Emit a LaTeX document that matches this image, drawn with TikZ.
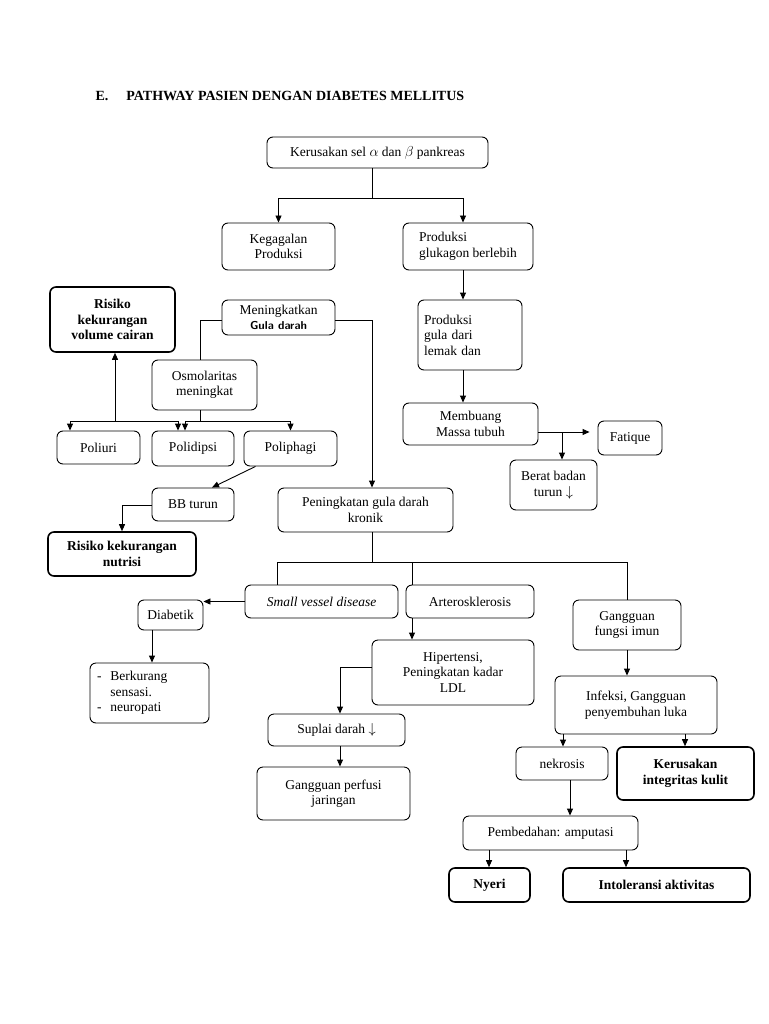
\documentclass[tikz,border=0pt]{standalone}
\usepackage{fontspec}
\setmainfont{Liberation Serif}
\usetikzlibrary{arrows.meta}
\begin{document}
\begin{tikzpicture}[x=1pt,y=-1pt,
 box/.style={draw,rounded corners=6pt,line width=0.9pt,align=center,inner sep=2pt,font=\fontsize{13.5}{15.5}\selectfont},
 bbox/.style={box,line width=1.6pt,font=\fontsize{13.5}{15.5}\selectfont\bfseries},
 arr/.style={-{Triangle[length=7pt,width=6pt]},line width=0.9pt},
 ln/.style={line width=0.9pt}]
\useasboundingbox (0,0) rectangle (768,1024);
\fill[white] (0,0) rectangle (768,1024);
\node[anchor=west,font=\fontsize{14}{16}\selectfont\bfseries] (title) at (92,96) {E.\hspace{18pt}PATHWAY PASIEN DENGAN DIABETES MELLITUS};
\node[box,minimum width=221pt,minimum height=31pt] (top) at (377.5,152.5) {Kerusakan sel $\alpha$ dan $\beta$ pankreas};
\node[box,minimum width=113pt,minimum height=47pt] (keg) at (278.5,246.5) {Kegagalan\\Produksi};
\node[box,minimum width=130pt,minimum height=47pt,align=left] (glu) at (468,246.5) {Produksi\\glukagon berlebih};
\node[box,minimum width=113pt,minimum height=35pt] (men) at (278.5,317.5) {Meningkatkan\\{\sffamily\bfseries\fontsize{11.5}{13}\selectfont Gula darah}};
\node[box,minimum width=104pt,minimum height=70pt,align=left,text width=92pt] (lem) at (470,335) {Produksi\\gula dari\\lemak dan\\[6pt]};
\node[box,minimum width=135pt,minimum height=42pt] (mem) at (470.5,424) {Membuang\\Massa tubuh};
\node[box,minimum width=64pt,minimum height=34pt] (fat) at (630,438) {Fatique};
\node[box,minimum width=87pt,minimum height=50pt] (ber) at (553.5,485) {Berat badan\\turun $\downarrow$};
\node[bbox,minimum width=125pt,minimum height=65pt] (ris) at (112.5,319.5) {Risiko\\kekurangan\\volume cairan};
\node[box,minimum width=105pt,minimum height=50pt] (osm) at (204.5,385) {Osmolaritas\\meningkat};
\node[box,minimum width=83pt,minimum height=33pt] (pur) at (98.5,447.5) {Poliuri};
\node[box,minimum width=82pt,minimum height=35pt] (pdi) at (193,448.5) {Polidipsi};
\node[box,minimum width=93pt,minimum height=35pt] (pph) at (290.5,448.5) {Poliphagi};
\node[box,minimum width=82pt,minimum height=33pt] (bb) at (193,504.5) {BB turun};
\node[bbox,minimum width=148pt,minimum height=44pt] (rkn) at (122,554) {Risiko kekurangan\\nutrisi};
\node[box,minimum width=175pt,minimum height=44pt] (pgk) at (365.5,510) {Peningkatan gula darah\\kronik};
\node[box,minimum width=153pt,minimum height=33pt,font=\fontsize{13.5}{15.5}\selectfont\itshape] (svd) at (321.5,601.5) {Small vessel disease};
\node[box,minimum width=128pt,minimum height=33pt] (art) at (470,601.5) {Arterosklerosis};
\node[box,minimum width=65pt,minimum height=30pt] (dia) at (170.5,615) {Diabetik};
\node[box,minimum width=119pt,minimum height=60pt,align=left,text width=105pt] (brk) at (149.5,693) {-\ \ Berkurang\\\phantom{-\ \ }sensasi.\\-\ \ neuropati};
\node[box,minimum width=162pt,minimum height=65pt] (hip) at (453,672.5) {Hipertensi,\\Peningkatan kadar\\LDL};
\node[box,minimum width=137pt,minimum height=32pt] (sup) at (336.5,730) {Suplai darah $\downarrow$};
\node[box,minimum width=153pt,minimum height=53pt] (gpj) at (333.5,793.5) {Gangguan perfusi\\jaringan};
\node[box,minimum width=108pt,minimum height=50pt] (gfi) at (627,625) {Gangguan\\fungsi imun};
\node[box,minimum width=162pt,minimum height=58pt] (inf) at (636,705) {Infeksi, Gangguan\\penyembuhan luka};
\node[box,minimum width=92pt,minimum height=33pt] (nek) at (562,763.5) {nekrosis};
\node[bbox,minimum width=137pt,minimum height=53pt] (ker) at (685.5,773.5) {Kerusakan\\integritas kulit};
\node[box,minimum width=175pt,minimum height=34pt] (pem) at (550.5,833) {Pembedahan: amputasi};
\node[bbox,minimum width=81pt,minimum height=34pt] (nye) at (489.5,885) {Nyeri};
\node[bbox,minimum width=187pt,minimum height=34pt] (int) at (656.5,885) {Intoleransi aktivitas};
% coordinates
\coordinate (j1) at (372,198);
\coordinate (j2) at (200,320);
\coordinate (j3) at (372,320);
\coordinate (j4) at (200,421);
\coordinate (j5) at (115,421);
\coordinate (j6) at (562,432);
\coordinate (j7) at (122,505);
\coordinate (j8) at (372,562);
\coordinate (j9) at (340,667);
\coordinate (jr) at (463,198);
% connectors
\draw[ln] (top.south-|j1) -- (j1);
\draw[arr] (j1) -| (keg.north);
\draw[arr] (j1) -- (jr) -- (jr|-glu.north);
\draw[arr] (glu.south-|jr) -- (jr|-lem.north);
\draw[arr] (lem.south-|jr) -- (jr|-mem.north);
\draw[arr] (mem.east|-j6) -- ([xshift=-8pt]fat.west|-j6);
\draw[arr] (j6) -- (j6|-ber.north);
\draw[ln] (men.west|-j2) -- (j2) -- (j2|-osm.north);
\draw[ln] (osm.south-|j4) -- (j4);
\draw[arr] (j4) -| ([xshift=-8pt]pdi.north);
\draw[arr] (j4) -| (pph.north);
\draw[arr] (j5) -| (pur.north west-|70,0) ;
\draw[arr] (j5) -| ([xshift=-15pt]pdi.north);
\draw[arr] (j5) -- (j5|-ris.south);
\draw[arr] ([xshift=-35pt]pph.south) -- ([xshift=19pt]bb.north);
\draw[arr] (bb.west|-j7) -- (j7) -- (j7|-rkn.north);
\draw[arr] (men.east|-j3) -- (j3) -- (j3|-pgk.north);
\draw[ln] (pgk.south-|j8) -- (j8);
\draw[ln] (j8) -| ([xshift=-44.5pt]svd.north);
\draw[ln] (j8) -| ([xshift=-58pt]art.north);
\draw[ln] (j8) -| (gfi.north);
\draw[arr] (svd.west) -- (dia.east|-svd.west);
\draw[arr] ([xshift=-18.5pt]dia.south) -- ([xshift=-18.5pt]dia.south|-brk.north);
\draw[arr] ([xshift=-58pt]art.south) -- ([xshift=-58pt]art.south|-hip.north);
\draw[arr] (hip.west|-j9) -- (j9) -- (j9|-sup.north);
\draw[arr] (sup.south-|j9) -- (j9|-gpj.north);
\draw[arr] (gfi.south) -- (gfi.south|-inf.north);
\draw[arr] ([xshift=-73pt]inf.south) -- ([xshift=-73pt]inf.south|-nek.north);
\draw[arr] ([xshift=49pt]inf.south) -- ([xshift=49pt]inf.south|-ker.north);
\draw[arr] ([xshift=8pt]nek.south) -- ([xshift=8pt]nek.south|-pem.north);
\draw[arr] ([xshift=-61.5pt]pem.south) -- ([xshift=-61.5pt]pem.south|-nye.north);
\draw[arr] ([xshift=75.5pt]pem.south) -- ([xshift=75.5pt]pem.south|-int.north);
\end{tikzpicture}
\end{document}
